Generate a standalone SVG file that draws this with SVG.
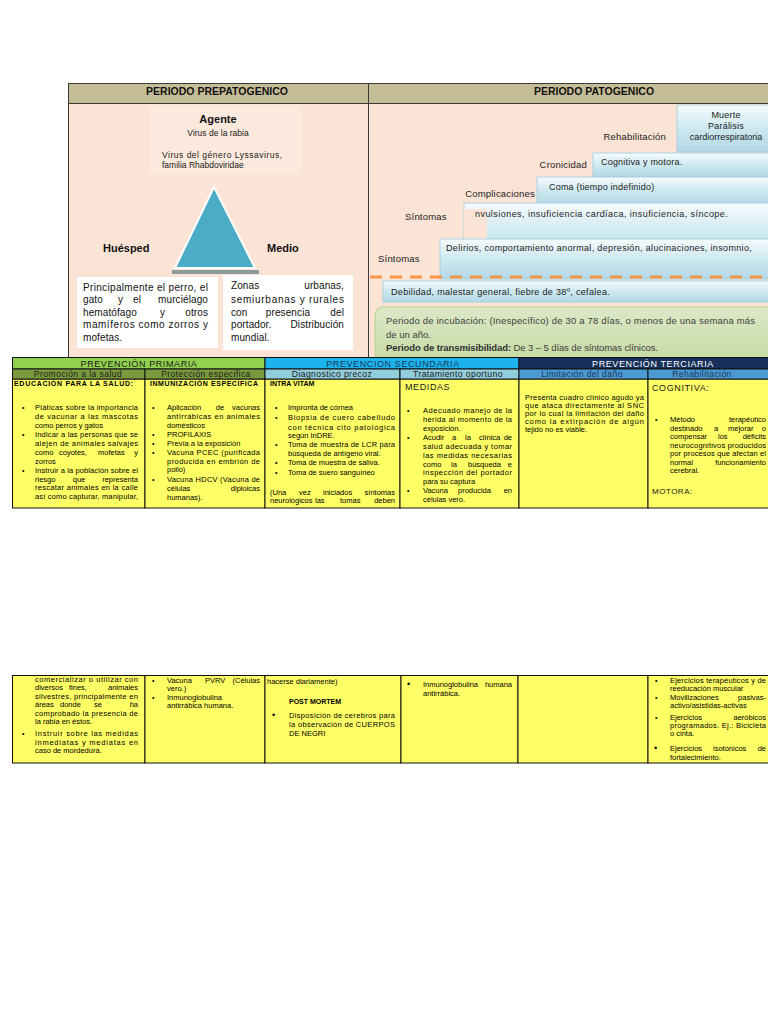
<svg xmlns="http://www.w3.org/2000/svg" width="768" height="1024" viewBox="0 0 768 1024">
<defs>
<linearGradient id="gBlue" x1="0" y1="0" x2="0" y2="1">
<stop offset="0" stop-color="#f6fbfd"/><stop offset="0.55" stop-color="#c9e6ef"/><stop offset="1" stop-color="#b3d9e5"/>
</linearGradient>
<linearGradient id="gGreen" x1="0" y1="0" x2="0" y2="1">
<stop offset="0" stop-color="#dde8c8"/><stop offset="1" stop-color="#c4d89f"/>
</linearGradient>
<style>
text{font-family:"Liberation Sans",Arial,sans-serif;fill:#1a1a1a}
.t7{font-size:7.5px;fill:#000}
.b7{font-size:7px;font-weight:bold;fill:#000}
.bul{font-size:7px;fill:#000}
.ph{font-size:10.5px;font-weight:bold;fill:#111}
.lab{font-size:9.5px;fill:#222;letter-spacing:0.2px}
.bx{font-size:9px;fill:#222;letter-spacing:0.2px}
.gt{font-size:9.5px;fill:#404040}
.wt{font-size:10px;fill:#111;letter-spacing:0.1px}
.hd{font-size:9px;letter-spacing:0.6px}
.sh{font-size:8.6px;letter-spacing:0.4px}
.box{fill:url(#gBlue);stroke:#9ccadb;stroke-width:0.8}
.cellY{fill:#ffff66;stroke:#111;stroke-width:1}
.m{text-anchor:middle}
.e{text-anchor:end}
</style>
</defs>
<rect width="768" height="1024" fill="#ffffff"/>

<!-- ===== Top section ===== -->
<g id="periodos">
<rect x="68.5" y="83.5" width="712" height="275" fill="#fbe4d6" stroke="#3a3a3a" stroke-width="1"/>
<rect x="68.5" y="83.5" width="712" height="20" fill="#c4bd97" stroke="#3a3a3a" stroke-width="1"/>
<line x1="368.5" y1="83.5" x2="368.5" y2="358" stroke="#3a3a3a" stroke-width="1"/>
<text class="ph m" x="217" y="94.5">PERIODO PREPATOGENICO</text>
<text class="ph m" x="594" y="94.5">PERIODO PATOGENICO</text>
</g>

<g id="agente">
<rect x="150" y="106" width="152" height="68" fill="#fce9dd"/>
<text class="m" x="218" y="123" style="font-size:11px;font-weight:bold;fill:#111">Agente</text>
<text class="m" x="218" y="136" style="font-size:8.5px;fill:#222">Virus de la rabia</text>
<text x="162" y="157.5" style="font-size:8.5px;fill:#222" textLength="120" lengthAdjust="spacing">Virus del género Lyssavirus,</text>
<text x="162" y="168" style="font-size:8.5px;fill:#222">familia Rhabdoviridae</text>
</g>

<g id="triada">
<polygon points="214,187 175,268 255,268" fill="#4bacc6" stroke="#ffffff" stroke-width="2"/>
<rect x="172" y="270" width="87" height="4" fill="#8b9b9b"/>
</g>

<g id="huesped">
<text x="103" y="252" style="font-size:11px;font-weight:bold;fill:#111">Huésped</text>
<rect x="77" y="277" width="141" height="71" fill="#ffffff"/>
<text class="wt" x="83" y="290.5" textLength="125" lengthAdjust="spacing">Principalmente el perro, el</text>
<text class="wt" x="83" y="303">gato</text>
<text class="wt" x="118" y="303">y</text>
<text class="wt" x="133" y="303">el</text>
<text class="wt e" x="208" y="303">murciélago</text>
<text class="wt" x="83" y="315.5">hematófago</text>
<text class="wt" x="160" y="315.5">y</text>
<text class="wt e" x="208" y="315.5">otros</text>
<text class="wt" x="83" y="328" textLength="125" lengthAdjust="spacing">mamíferos como zorros y</text>
<text class="wt" x="83" y="340.5">mofetas.</text>
</g>

<g id="medio">
<text x="267" y="252" style="font-size:11px;font-weight:bold;fill:#111">Medio</text>
<rect x="223" y="275" width="130" height="75" fill="#ffffff"/>
<text class="wt" x="231" y="288.5">Zonas</text>
<text class="wt e" x="344" y="288.5">urbanas,</text>
<text class="wt" x="231" y="303" textLength="113" lengthAdjust="spacing">semiurbanas y rurales</text>
<text class="wt" x="231" y="315.5">con</text>
<text class="wt m" x="288" y="315.5">presencia</text>
<text class="wt e" x="344" y="315.5">del</text>
<text class="wt" x="231" y="328">portador.</text>
<text class="wt e" x="344" y="328">Distribución</text>
<text class="wt" x="231" y="340.5">mundial.</text>
</g>

<g id="rehabilitacion">
<rect class="box" x="677" y="105" width="100" height="47"/>
<text class="bx m" x="726" y="118">Muerte</text>
<text class="bx m" x="726" y="128.5">Parálisis</text>
<text class="bx m" x="726" y="139.5" style="letter-spacing:0">cardiorrespiratoria</text>
<text class="lab e" x="666" y="140">Rehabilitación</text>
</g>

<g id="cronicidad">
<rect class="box" x="593" y="153" width="184" height="24"/>
<text class="bx" x="601" y="164.5">Cognitiva y motora.</text>
<text class="lab e" x="587" y="168">Cronicidad</text>
</g>

<g id="complicaciones">
<rect class="box" x="537" y="177" width="240" height="27"/>
<text class="bx" x="549" y="189.5">Coma (tiempo indefinido)</text>
<text class="lab e" x="535" y="197">Complicaciones</text>
</g>

<g id="sintomas1">
<rect class="box" x="464" y="203" width="313" height="62"/>
<rect x="464" y="209" width="23" height="30" fill="#fbe4d6"/>
<text class="bx" x="475" y="217" textLength="253" lengthAdjust="spacing">nvulsiones, insuficiencia cardíaca, insuficiencia, síncope.</text>
<text class="lab" x="405" y="220">Síntomas</text>
</g>

<g id="sintomas2">
<rect class="box" x="440" y="239" width="337" height="40"/>
<text class="bx" x="446" y="250.5" textLength="306" lengthAdjust="spacing">Delirios, comportamiento anormal, depresión, alucinaciones, insomnio,</text>
<text class="lab" x="378" y="261.5">Síntomas</text>
</g>

<g id="horizonte">
<line x1="370" y1="277" x2="768" y2="277" stroke="#f79646" stroke-width="3" stroke-dasharray="12,8"/>
</g>

<g id="prodromos">
<rect class="box" x="383" y="281" width="394" height="21"/>
<text class="bx" x="391" y="294.5" textLength="219" lengthAdjust="spacing">Debilidad, malestar general, fiebre de 38º, cefalea.</text>
</g>

<g id="incubacion">
<rect x="375" y="307" width="410" height="60" rx="8" fill="url(#gGreen)" stroke="#b8cf8c" stroke-width="1"/>
<text class="gt" x="386" y="323.5" textLength="369" lengthAdjust="spacing">Periodo de incubación: (Inespecífico) de 30 a 78 días, o menos de una semana más</text>
<text class="gt" x="386" y="337.5">de un año.</text>
<text class="gt" x="386" y="351" textLength="272" lengthAdjust="spacing"><tspan style="font-weight:bold;fill:#333">Periodo de transmisibilidad:</tspan> De 3 – 5 días de síntomas clínicos.</text>
</g>

<!-- ===== Table body (top part) ===== -->
<g id="cuerpo-superior">
<rect class="cellY" x="12.5" y="379" width="132.5" height="129"/>
<rect class="cellY" x="145" y="379" width="120" height="129"/>
<rect class="cellY" x="265" y="379" width="135" height="129"/>
<rect class="cellY" x="400" y="379" width="119" height="129"/>
<rect class="cellY" x="519" y="379" width="129" height="129"/>
<rect class="cellY" x="648" y="379" width="131" height="129"/>
</g>

<!-- ===== Table headers ===== -->
<g id="encabezados">
<rect x="12.5" y="357.5" width="252.5" height="11.5" fill="#92d050" stroke="#111"/>
<rect x="265" y="357.5" width="254" height="11.5" fill="#1cb3ec" stroke="#111"/>
<rect x="519" y="357.5" width="260" height="11.5" fill="#17315a" stroke="#111"/>
<text class="hd m" x="139" y="366.5">PREVENCIÓN PRIMARIA</text>
<text class="hd m" x="393" y="366.5" style="fill:#17365d">PREVENCION SECUNDARIA</text>
<text class="hd m" x="653" y="366.5" style="fill:#ffffff">PREVENCIÓN TERCIARIA</text>

<rect x="12.5" y="369" width="132.5" height="10" fill="#7a9a3e" stroke="#111"/>
<rect x="145" y="369" width="120" height="10" fill="#7a9a3e" stroke="#111"/>
<rect x="265" y="369" width="135" height="10" fill="#92cddc" stroke="#111"/>
<rect x="400" y="369" width="119" height="10" fill="#92cddc" stroke="#111"/>
<rect x="519" y="369" width="129" height="10" fill="#4b9ad2" stroke="#111"/>
<rect x="648" y="369" width="131" height="10" fill="#4b9ad2" stroke="#111"/>
<text class="sh m" x="78" y="376.8">Promoción a la salud</text>
<text class="sh m" x="206" y="376.8">Protección especifica</text>
<text class="sh m" x="332" y="376.8">Diagnostico precoz</text>
<text class="sh m" x="458" y="376.8">Tratamiento oportuno</text>
<text class="sh m" x="582" y="376.8" style="fill:#17365d">Limitación del daño</text>
<text class="sh m" x="702" y="376.8" style="fill:#17365d">Rehabilitación</text>
</g>

<g id="promocion">
<text class="b7" x="14" y="386" textLength="119" lengthAdjust="spacing">EDUCACIÓN PARA LA SALUD:</text>
<text class="bul" x="22" y="409.5">•</text>
<text class="t7" x="35" y="409.5" textLength="103" lengthAdjust="spacing">Pláticas sobre la importancia</text>
<text class="t7" x="35" y="418.5" textLength="103" lengthAdjust="spacing">de vacunar a las mascotas</text>
<text class="t7" x="35" y="427.5">como perros y gatos</text>
<text class="bul" x="22" y="436.5">•</text>
<text class="t7" x="35" y="436.5" textLength="103" lengthAdjust="spacing">Indicar a las personas que se</text>
<text class="t7" x="35" y="445.5" textLength="103" lengthAdjust="spacing">alejen de animales salvajes</text>
<text class="t7" x="35" y="454.5">como</text>
<text class="t7" x="59" y="454.5">coyotes,</text>
<text class="t7" x="98" y="454.5">mofetas</text>
<text class="t7 e" x="138" y="454.5">y</text>
<text class="t7" x="35" y="463.5">zorros</text>
<text class="bul" x="22" y="472.5">•</text>
<text class="t7" x="35" y="472.5" textLength="103" lengthAdjust="spacing">Instruir a la población sobre el</text>
<text class="t7" x="35" y="481.5">riesgo</text>
<text class="t7 m" x="79" y="481.5">que</text>
<text class="t7 e" x="138" y="481.5">representa</text>
<text class="t7" x="35" y="490" textLength="103" lengthAdjust="spacing">rescatar animales en la calle</text>
<text class="t7" x="35" y="498.5" textLength="103" lengthAdjust="spacing">así como capturar, manipular,</text>
</g>

<g id="proteccion">
<text class="b7" x="150" y="386" textLength="108" lengthAdjust="spacing">INMUNIZACIÓN ESPECÍFICA</text>
<text class="bul" x="152" y="409.5">•</text>
<text class="t7" x="167" y="409.5">Aplicación</text>
<text class="t7 m" x="220" y="409.5">de</text>
<text class="t7 e" x="260" y="409.5">vacunas</text>
<text class="t7" x="167" y="418.5" textLength="93" lengthAdjust="spacing">antirrábicas en animales</text>
<text class="t7" x="167" y="427.5">domésticos</text>
<text class="bul" x="152" y="436.5">•</text>
<text class="t7" x="167" y="436.5">PROFILAXIS</text>
<text class="bul" x="152" y="445.5">•</text>
<text class="t7" x="167" y="445.5">Prevía a la exposición</text>
<text class="bul" x="152" y="454.5">•</text>
<text class="t7" x="167" y="454.5" textLength="93" lengthAdjust="spacing">Vacuna PCEC (purificada</text>
<text class="t7" x="167" y="463.5" textLength="93" lengthAdjust="spacing">producida en embrión de</text>
<text class="t7" x="167" y="472">pollo)</text>
<text class="bul" x="152" y="482">•</text>
<text class="t7" x="167" y="482" textLength="93" lengthAdjust="spacing">Vacuna HDCV (Vacuna de</text>
<text class="t7" x="167" y="491">células</text>
<text class="t7 e" x="260" y="491">diploicas</text>
<text class="t7" x="167" y="500">humanas).</text>
</g>

<g id="diagnostico">
<text class="b7" x="270" y="385.5">INTRA VITAM</text>
<text class="bul" x="275" y="410">•</text>
<text class="t7" x="288" y="410">Impronta de córnea</text>
<text class="bul" x="275" y="420">•</text>
<text class="t7" x="288" y="420" textLength="107" lengthAdjust="spacing">Biopsia de cuero cabelludo</text>
<text class="t7" x="288" y="429.5" textLength="107" lengthAdjust="spacing">con técnica cito patológica</text>
<text class="t7" x="288" y="438">según InDRE.</text>
<text class="bul" x="275" y="446.5">•</text>
<text class="t7" x="288" y="446.5" textLength="107" lengthAdjust="spacing">Toma de muestra de LCR para</text>
<text class="t7" x="288" y="455.5">búsqueda de antígeno viral.</text>
<text class="bul" x="275" y="464.5">•</text>
<text class="t7" x="288" y="464.5">Toma de muestra de saliva.</text>
<text class="bul" x="275" y="474.5">•</text>
<text class="t7" x="288" y="474.5">Toma de suero sanguíneo</text>
<text class="t7" x="270" y="495">(Una</text>
<text class="t7" x="299" y="495">vez</text>
<text class="t7" x="323" y="495">iniciados</text>
<text class="t7 e" x="395" y="495">síntomas</text>
<text class="t7" x="270" y="503">neurológicos</text>
<text class="t7" x="315" y="503">las</text>
<text class="t7" x="340" y="503">tomas</text>
<text class="t7 e" x="395" y="503">deben</text>
</g>

<g id="tratamiento">
<text x="405" y="390" style="font-size:9px;letter-spacing:0.6px">MEDIDAS</text>
<text class="bul" x="407" y="412.5">•</text>
<text class="t7" x="423" y="412.5" textLength="89" lengthAdjust="spacing">Adecuado manejo de la</text>
<text class="t7" x="423" y="421.5" textLength="89" lengthAdjust="spacing">herida al momento de la</text>
<text class="t7" x="423" y="430.5">exposición.</text>
<text class="bul" x="407" y="439.5">•</text>
<text class="t7" x="423" y="439.5">Acudir</text>
<text class="t7" x="452" y="439.5">a</text>
<text class="t7" x="465" y="439.5">la</text>
<text class="t7" x="479" y="439.5">clínica</text>
<text class="t7 e" x="512" y="439.5">de</text>
<text class="t7" x="423" y="448.5" textLength="89" lengthAdjust="spacing">salud adecuada y tomar</text>
<text class="t7" x="423" y="457.5" textLength="89" lengthAdjust="spacing">las medidas necesarias</text>
<text class="t7" x="423" y="466.5">como</text>
<text class="t7" x="451" y="466.5">la</text>
<text class="t7" x="468" y="466.5">búsqueda</text>
<text class="t7 e" x="512" y="466.5">e</text>
<text class="t7" x="423" y="474.5" textLength="89" lengthAdjust="spacing">inspección del portador</text>
<text class="t7" x="423" y="484">para su captura</text>
<text class="bul" x="407" y="492.5">•</text>
<text class="t7" x="423" y="492.5">Vacuna</text>
<text class="t7" x="458" y="492.5">producida</text>
<text class="t7 e" x="512" y="492.5">en</text>
<text class="t7" x="423" y="501.5">células vero.</text>
</g>

<g id="limitacion">
<text class="t7" x="525" y="400" textLength="119" lengthAdjust="spacing">Presenta cuadro clínico agudo ya</text>
<text class="t7" x="525" y="408" textLength="119" lengthAdjust="spacing">que ataca directamente al SNC</text>
<text class="t7" x="525" y="416" textLength="119" lengthAdjust="spacing">por lo cual la limitación del daño</text>
<text class="t7" x="525" y="424" textLength="119" lengthAdjust="spacing">como la extirpación de algún</text>
<text class="t7" x="525" y="432">tejido no es viable.</text>
</g>

<g id="rehabilitacion-tabla">
<text x="652" y="391" style="font-size:9px;letter-spacing:0.6px">COGNITIVA:</text>
<text class="bul" x="655" y="421.5">•</text>
<text class="t7" x="670" y="421.5">Método</text>
<text class="t7 e" x="766" y="421.5">terapéutico</text>
<text class="t7" x="670" y="430.5">destinado</text>
<text class="t7" x="714" y="430.5">a</text>
<text class="t7" x="728" y="430.5">mejorar</text>
<text class="t7 e" x="766" y="430.5">o</text>
<text class="t7" x="670" y="438.5">compensar</text>
<text class="t7" x="718" y="438.5">los</text>
<text class="t7 e" x="766" y="438.5">déficits</text>
<text class="t7" x="670" y="447.5" textLength="96" lengthAdjust="spacing">neurocognitivos producidos</text>
<text class="t7" x="670" y="456" textLength="96" lengthAdjust="spacing">por procesos que afectan el</text>
<text class="t7" x="670" y="464.5">normal</text>
<text class="t7 e" x="766" y="464.5">funcionamiento</text>
<text class="t7" x="670" y="473">cerebral.</text>
<text x="652" y="494" style="font-size:8px;letter-spacing:0.5px">MOTORA:</text>
</g>

<!-- ===== Table body (bottom part, next page) ===== -->
<g id="cuerpo-inferior">
<rect class="cellY" x="12.5" y="675.5" width="132.5" height="87.5"/>
<rect class="cellY" x="145" y="675.5" width="120" height="87.5"/>
<rect class="cellY" x="265" y="675.5" width="136" height="87.5"/>
<rect class="cellY" x="401" y="675.5" width="117" height="87.5"/>
<rect class="cellY" x="518" y="675.5" width="130" height="87.5"/>
<rect class="cellY" x="648" y="675.5" width="131" height="87.5"/>
</g>

<g id="promocion-2">
<text class="t7" x="35" y="682" textLength="103" lengthAdjust="spacing">comercializar o utilizar con</text>
<text class="t7" x="35" y="690">diversos</text>
<text class="t7 m" x="78" y="690">fines,</text>
<text class="t7 e" x="138" y="690">animales</text>
<text class="t7" x="35" y="698.5" textLength="103" lengthAdjust="spacing">silvestres, principalmente en</text>
<text class="t7" x="35" y="707">áreas</text>
<text class="t7" x="60" y="707">donde</text>
<text class="t7" x="94" y="707">se</text>
<text class="t7 e" x="138" y="707">ha</text>
<text class="t7" x="35" y="715.5" textLength="103" lengthAdjust="spacing">comprobado la presencia de</text>
<text class="t7" x="35" y="724">la rabia en éstos.</text>
<text class="bul" x="22" y="736">•</text>
<text class="t7" x="35" y="736" textLength="103" lengthAdjust="spacing">Instruir sobre las medidas</text>
<text class="t7" x="35" y="744.5" textLength="103" lengthAdjust="spacing">inmediatas y mediatas en</text>
<text class="t7" x="35" y="753">caso de mordedura.</text>
</g>

<g id="proteccion-2">
<text class="bul" x="152" y="682.5">•</text>
<text class="t7" x="167" y="682.5">Vacuna</text>
<text class="t7" x="205" y="682.5">PVRV</text>
<text class="t7 e" x="260" y="682.5">(Células</text>
<text class="t7" x="167" y="691">vero.)</text>
<text class="bul" x="152" y="699.5">•</text>
<text class="t7" x="167" y="699.5">Inmunoglobulina</text>
<text class="t7" x="167" y="708">antirrábica humana.</text>
</g>

<g id="diagnostico-2">
<text class="t7" x="267" y="683.5">hacerse diariamente)</text>
<text class="b7" x="289" y="703.5">POST MORTEM</text>
<text x="272" y="718" style="font-size:9px;fill:#000">•</text>
<text class="t7" x="289" y="717.5" textLength="106" lengthAdjust="spacing">Disposición de cerebros para</text>
<text class="t7" x="289" y="726.5" textLength="106" lengthAdjust="spacing">la observación de CUERPOS</text>
<text class="t7" x="289" y="735.5">DE NEGRI</text>
</g>

<g id="tratamiento-2">
<text x="407" y="687" style="font-size:9px;fill:#000">•</text>
<text class="t7" x="423" y="686.5">Inmunoglobulina</text>
<text class="t7 e" x="512" y="686.5">humana</text>
<text class="t7" x="423" y="695.5">antirrábica.</text>
</g>

<g id="rehabilitacion-2">
<text class="bul" x="655" y="682.5">•</text>
<text class="t7" x="670" y="682.5" textLength="96" lengthAdjust="spacing">Ejercicios terapéuticos y de</text>
<text class="t7" x="670" y="690.5">reeducación muscular</text>
<text class="bul" x="655" y="699.5">•</text>
<text class="t7" x="670" y="699.5">Movilizaciones</text>
<text class="t7 e" x="766" y="699.5">pasivas-</text>
<text class="t7" x="670" y="707.5">activo/asistidas-activas</text>
<text class="bul" x="655" y="719.5">•</text>
<text class="t7" x="670" y="719.5">Ejercicios</text>
<text class="t7 e" x="766" y="719.5">aeróbicos</text>
<text class="t7" x="670" y="727.5" textLength="96" lengthAdjust="spacing">programados. Ej.: Bicicleta</text>
<text class="t7" x="670" y="735.5">o cinta.</text>
<text x="654" y="751" style="font-size:9px;fill:#000">•</text>
<text class="t7" x="670" y="750.5">Ejercicios</text>
<text class="t7" x="713" y="750.5">isotónicos</text>
<text class="t7 e" x="766" y="750.5">de</text>
<text class="t7" x="670" y="759.5">fortalecimiento.</text>
</g>
</svg>
